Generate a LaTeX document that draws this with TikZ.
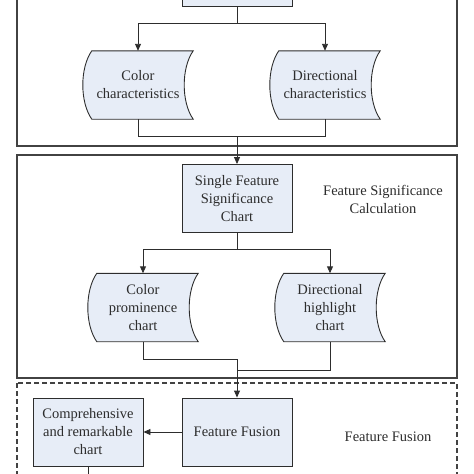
\documentclass[tikz,border=0pt]{standalone}
\usepackage{fontspec}
\setmainfont{Liberation Serif}
\usetikzlibrary{arrows.meta}
\definecolor{boxfill}{RGB}{231,237,247}
\definecolor{ink}{RGB}{45,45,45}
\begin{document}
\begin{tikzpicture}[x=1pt,y=-1pt,
  every node/.style={text=ink,font=\fontsize{14.5}{18}\selectfont,align=center},
  procbox/.style={draw=ink,line width=0.9pt,fill=boxfill,minimum width=110pt,minimum height=68pt,inner sep=2pt},
  datashape/.style={minimum width=110pt,minimum height=68pt,inner sep=2pt},
  frame/.style={draw=ink!90,line width=1.1pt},
  link/.style={draw=ink,line width=0.9pt},
  arr/.style={link,-{Triangle[length=7pt,width=6pt]}},
  lbl/.style={text=ink}
]
\useasboundingbox (0,0) rectangle (474,474);
\begin{scope}
\clip (0,0) rectangle (474,474);

% stored-data outline: curved left and right sides
\newcommand{\datapath}[1]{%
  \path[fill=boxfill,draw=ink,line width=0.9pt]
    ([xshift=9pt]#1.north west) -- (#1.north east)
    .. controls ([xshift=-12pt,yshift=-17pt]#1.north east) and ([xshift=-12pt,yshift=17pt]#1.south east) .. (#1.south east)
    -- ([xshift=9pt]#1.south west)
    .. controls ([xshift=-3pt,yshift=17pt]#1.south west) and ([xshift=-3pt,yshift=-17pt]#1.north west) .. ([xshift=9pt]#1.north west) -- cycle;}

% frames
\draw[frame] (17,-90) rectangle (457,146);
\draw[frame] (17,155) rectangle (457,378);
\draw[frame,dashed,dash pattern=on 5pt off 3pt] (17,383) rectangle (457,530);

% first stage
\node[procbox] (src) at (237,-28) {};
\node[datashape] (c1) at (138,85) {};
\node[datashape] (c2) at (325,85) {};
\datapath{c1}
\datapath{c2}
\node[datashape] at (c1) {Color\\characteristics};
\node[datashape] at (c2) {Directional\\characteristics};

\coordinate (s1) at (237,23);
\draw[link] (src.south) -- (s1);
\draw[arr] (s1) -| (c1.north);
\draw[arr] (s1) -| (c2.north);

% second stage
\node[procbox] (single) at (237,198.5) {Single Feature\\Significance\\Chart};
\node[lbl] (lab1) at (383,199) {Feature Significance\\Calculation};
\coordinate (m1) at (237,136);
\draw[link] (c1.south) |- (m1);
\draw[link] (c2.south) |- (m1);
\draw[arr] (m1) -- (single.north);

\node[datashape] (p1) at (143,307.5) {};
\node[datashape] (p2) at (330,307.5) {};
\datapath{p1}
\datapath{p2}
\node[datashape] at (p1) {Color\\prominence\\chart};
\node[datashape] at (p2) {Directional\\highlight\\chart};

\coordinate (s2) at (237,249);
\draw[link] (single.south) -- (s2);
\draw[arr] (s2) -| (p1.north);
\draw[arr] (s2) -| (p2.north);

% third stage
\node[procbox] (fusion) at (237,432) {Feature Fusion};
\node[procbox] (comp) at (88,432) {Comprehensive\\and remarkable\\chart};
\node[lbl] (lab2) at (388,437) {Feature Fusion};

\coordinate (m2) at (237,359);
\coordinate (m3) at (237,370);
\draw[link] (p1.south) |- (m2);
\draw[link] (p2.south) |- (m3);
\draw[arr] (m2) -- (fusion.north);
\draw[arr] (fusion.west) -- (comp.east);
\coordinate (out) at (88,490);
\draw[link] (comp.south) -- (out);
\end{scope}
\end{tikzpicture}
\end{document}
